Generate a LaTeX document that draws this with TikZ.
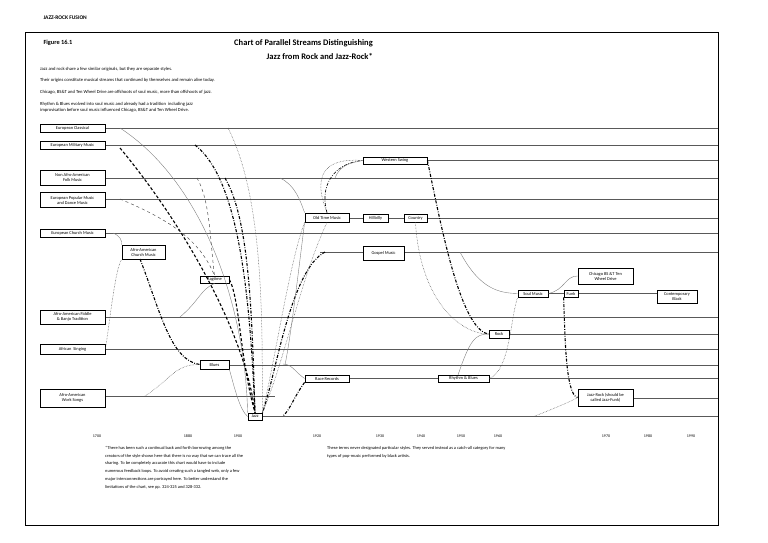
\documentclass[tikz,border=0pt]{standalone}
\usepackage{fontspec}
\setmainfont{Carlito}
\begin{document}
\begin{tikzpicture}[x=1pt,y=-1pt,
  bx/.style={draw,thick,fill=white,inner sep=1pt,font=\fontsize{4.4}{5}\selectfont,align=center,minimum height=8pt},
  stream/.style={line width=0.7pt,gray!70!black},
  thin/.style={gray,line width=0.4pt},
  dsh/.style={line width=1.1pt,dashed,dash pattern=on 3pt off 2pt},
  dshd/.style={line width=1.1pt,dash pattern=on 3pt off 1.5pt on 0.8pt off 1.5pt},
  dot/.style={gray!60!black,line width=0.5pt,densely dotted},
  tx/.style={font=\fontsize{4.6}{5.6}\selectfont,anchor=west,inner sep=0pt,align=left},
  yr/.style={font=\fontsize{4}{4.5}\selectfont,inner sep=0pt}]
\useasboundingbox (0,0) rectangle (768,542);
\draw[line width=0.8pt] (25,32) rectangle (718,525);
\node[anchor=west,font=\bfseries\fontsize{5.5}{6}\selectfont] (hd) at (40,18) {JAZZ-ROCK FUSION};
\node[anchor=west,font=\bfseries\fontsize{6.3}{7}\selectfont] (fig) at (40,43) {Figure 16.1};
\node[anchor=east,font=\bfseries\fontsize{8.5}{9}\selectfont,inner sep=0pt] (t1) at (373,43) {Chart of Parallel Streams Distinguishing};
\node[anchor=east,font=\bfseries\fontsize{8.5}{9}\selectfont,inner sep=0pt] (t2) at (373,56) {Jazz from Rock and Jazz-Rock*};
\node[tx] (p1) at (40,69) {Jazz and rock share a few similar originals, but they are separate styles.};
\node[tx] (p2) at (40,80) {Their origins constitute musical streams that continued by themselves and remain alive today.};
\node[tx] (p3) at (40,92) {Chicago, BS\&T and Ten Wheel Drive are offshoots of soul music, more than offshoots of jazz.};
\node[tx] (p4) at (40,107) {Rhythm \& Blues evolved into soul music and already had a tradition \ including jazz\\improvisation before soul music influenced Chicago, BS\&T and Ten Wheel Drive.};
% streams
\foreach \y in {128,145,178,199,233,317,349} \draw[stream] (105,\y) -- (718,\y);
\draw[stream] (320,252) -- (718,252);
\draw[stream] (427,160) -- (718,160);
\draw[stream] (427,218) -- (718,218);
\draw[stream] (509,334) -- (718,334);
\draw[stream] (548,293) -- (657,293);
\draw[stream] (229,365) -- (718,365);
\draw[stream] (349,378) -- (718,378);
\draw[stream] (633,398) -- (718,398);
\draw[stream] (262,416) -- (718,416);
\draw[stream] (105,396) -- (275,396);
\draw[stream] (349,218) -- (363,218) (388,218) -- (404,218);
% boxes
\node[bx,minimum width=65pt] (ec) at (72.5,128.5) {European Classical};
\node[bx,minimum width=65pt] (em) at (72.5,145) {European Military Music};
\node[bx,minimum width=65pt,minimum height=15pt] (nf) at (72.5,177.5) {Non Afro-American\\Folk Music};
\node[bx,minimum width=65pt,minimum height=15pt] (ep) at (72.5,200) {European Popular Music\\and Dance Music};
\node[bx,minimum width=65pt] (ech) at (72.5,233.5) {European Church Music};
\node[bx,minimum width=43pt,minimum height=14pt] (ac) at (143.5,252) {Afro-American\\Church Music};
\node[bx,minimum width=29pt,minimum height=7pt] (rg) at (214.5,279.5) {Ragtime};
\node[bx,minimum width=65pt,minimum height=14pt] (fd) at (72.5,317) {Afro-American Fiddle\\\& Banjo Tradition};
\node[bx,minimum width=65pt,minimum height=10pt] (as) at (72.5,349) {African \ Singing};
\node[bx,minimum width=29pt,minimum height=9pt] (bl) at (214.5,364.5) {Blues};
\node[bx,minimum width=65pt,minimum height=18pt] (ws) at (72.5,398) {Afro-American\\Work Songs};
\node[bx,minimum width=14pt,minimum height=7pt] (jz) at (255,416.5) {Jazz};
\node[bx,minimum width=44pt,minimum height=7pt] (rr) at (327,378.5) {Race Records};
\node[bx,minimum width=44pt,minimum height=9pt] (ot) at (327,217.5) {Old Time Music};
\node[bx,minimum width=25pt,minimum height=8pt] (hb) at (375.5,218) {Hillbilly};
\node[bx,minimum width=23pt,minimum height=8pt] (cn) at (415.5,218) {Country};
\node[bx,minimum width=64pt,minimum height=7pt] (wsw) at (395,160.5) {Western Swing};
\node[bx,minimum width=41pt,minimum height=14pt] (gm) at (383.5,253) {Gospel Music};
\node[bx,minimum width=51pt,minimum height=7pt] (rb) at (463.5,378.5) {Rhythm \& Blues};
\node[bx,minimum width=20pt,minimum height=8pt] (rk) at (499,334) {Rock};
\node[bx,minimum width=30pt,minimum height=7pt] (sm) at (533,293.5) {Soul Music};
\node[bx,minimum width=14pt,minimum height=7pt] (fk) at (571,293.5) {Funk};
\node[bx,minimum width=55pt,minimum height=16pt] (ch) at (605.5,276) {Chicago BS \&T Ten\\Wheel Drive};
\node[bx,minimum width=40pt,minimum height=13pt] (cb) at (677,296.5) {Contemporary\\Black};
\node[bx,minimum width=55pt,minimum height=17pt] (jr) at (605.5,397.5) {Jazz-Rock (should be\\called Jazz-Funk)};
% connectors
\draw[thin] (120,128) .. controls (200,180) and (245,300) .. (jz.north west);
\draw[dsh] (120,148) .. controls (180,220) and (245,330) .. (jz.north);
\draw[dshd] (195,145) .. controls (240,180) and (250,300) .. (jz.north);
\draw[dot] (228,128) .. controls (265,200) and (262,330) .. (jz.north east);
\draw[dot,dashed] (120,199) .. controls (170,220) and (200,240) .. (rg.north);
\draw[dot,dashed] (197,178) .. controls (210,200) and (210,240) .. (rg.north);
\draw[dshd] (225,178) .. controls (250,220) and (252,320) .. (jz.north);
\draw[thin] (113,233) .. controls (120,236) and (122,240) .. (ac.north west);
\draw[dshd] (140,259) .. controls (160,310) and (170,360) .. (bl.west);
\draw[dot] (as.east) .. controls (110,320) and (115,270) .. (ac.south west);
\draw[thin] (180,317) .. controls (200,300) and (200,290) .. (rg.south);
\draw[dot] (145,396) .. controls (170,380) and (175,364) .. (bl.west);
\draw[dsh] (rg.east) .. controls (240,300) and (240,360) .. (jz.north);
\draw[thin] (bl.south east) .. controls (235,390) and (240,410) .. (jz.west);
\draw[dshd] (325,252) .. controls (290,270) and (275,380) .. (jz.north east);
\draw[thin] (rr.west) .. controls (295,372) and (292,364) .. (283,364);
\draw[dshd] (rr.south west) .. controls (295,395) and (290,410) .. (283,416);
\draw[thin] (280,178) .. controls (295,185) and (300,200) .. (ot.north west);
\draw[dot] (ot.north) .. controls (310,170) and (330,158) .. (wsw.west);
\draw[dshd,line width=0.6pt] (ot.north) .. controls (318,180) and (340,162) .. (wsw.west);
\draw[thin] (335,178) .. controls (340,165) and (350,163) .. (wsw.west);
\draw[dot] (ot.south west) .. controls (290,260) and (275,360) .. (jz.north east);
\draw[dot] (ot.south) .. controls (300,280) and (285,360) .. (jz.north east);
\draw[thin] (ot.south west) .. controls (295,300) and (290,340) .. (285,365);
\draw[dshd] (wsw.east) .. controls (440,220) and (460,330) .. (rk.west);
\draw[dot] (cn.south) .. controls (420,300) and (460,334) .. (rk.west);
\draw[thin] (458,375) .. controls (470,340) and (475,334) .. (rk.west);
\draw[dot] (rb.east) .. controls (510,370) and (510,320) .. (sm.south west);
\draw[thin] (460,252) .. controls (480,290) and (500,293) .. (sm.west);
\draw[thin] (sm.east) .. controls (565,290) and (565,276) .. (ch.west);
\draw[dshd] (fk.south west) .. controls (565,330) and (565,395) .. (jr.west);
\draw[dot] (535,416) .. controls (550,410) and (570,402) .. (jr.west);
% years
\foreach \x/\t in {97/1700,188/1880,238/1900,317/1920,380/1930,421/1940,461/1950,498/1960,606/1970,648/1980,691/1990}
  \node[yr] at (\x,436) {\t};
\node[tx,anchor=north west,font=\fontsize{4.4}{7.8}\selectfont] (fn1) at (105,446) {*There has been such a continual back and forth borrowing among the\\creators of the style shown here that there is no way that we can trace all the\\sharing. To be completely accurate this chart would have to include\\numerous feedback loops. To avoid creating such a tangled web, only a few\\major interconnections are portrayed here. To better understand the\\limitations of the chart, see pp. 324-325 and 328-332.};
\node[tx,anchor=north west,font=\fontsize{4.4}{7.8}\selectfont] (fn2) at (327,446) {These terms never designated particular styles. They served instead as a catch-all category for many\\types of pop-music performed by black artists.};
\end{tikzpicture}
\end{document}
